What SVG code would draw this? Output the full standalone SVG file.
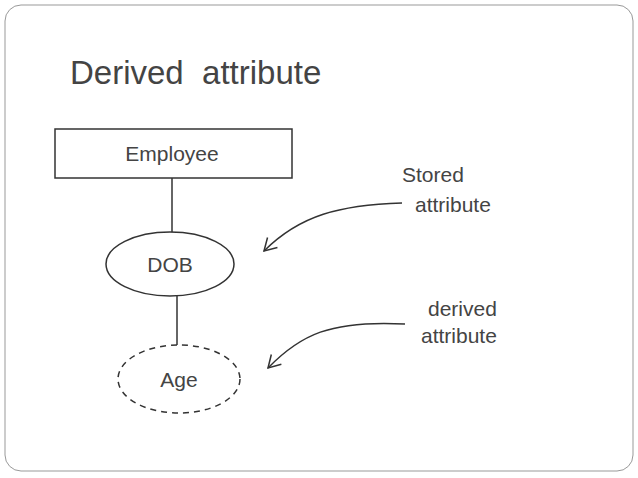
<svg xmlns="http://www.w3.org/2000/svg" width="638" height="478" viewBox="0 0 638 478">
<style>
.t{font-family:"Liberation Sans",Arial,sans-serif;fill:#444}
.s{fill:none;stroke:#333;stroke-width:1.5}
</style>
<defs><marker id="a" markerWidth="16" markerHeight="16" refX="14" refY="8" orient="auto" markerUnits="userSpaceOnUse"><path d="M2,1 L14,8 L2,15" fill="none" stroke="#333" stroke-width="1.5"/></marker></defs>
<rect x="5" y="5" width="628" height="466" rx="16" fill="#fff" stroke="#999"/>
<text class="t" x="70" y="84" font-size="33">Derived&#160; attribute</text>
<g id="employee"><rect class="s" x="55" y="129" width="237" height="49"/><text class="t" x="172" y="161" font-size="21" text-anchor="middle">Employee</text></g>
<g id="dob"><ellipse class="s" cx="170" cy="264" rx="64" ry="32"/><text class="t" x="170" y="272" font-size="21" text-anchor="middle">DOB</text></g>
<g id="age"><ellipse class="s" cx="179" cy="379" rx="61" ry="34" stroke-dasharray="6,5"/><text class="t" x="179" y="387" font-size="21" text-anchor="middle">Age</text></g>
<g id="stored"><text class="t" x="402" y="182" font-size="21">Stored</text><text class="t" x="415" y="212" font-size="21">attribute</text></g>
<g id="derived"><text class="t" x="428" y="316" font-size="21">derived</text><text class="t" x="421" y="343" font-size="21">attribute</text></g>
<g id="connectors">
<line class="s" x1="172" y1="178" x2="172" y2="232"/>
<line class="s" x1="177" y1="296" x2="177" y2="345"/>
<path class="s" d="M402,203 C340,205 300,215 264,251" marker-end="url(#a)"/>
<path class="s" d="M405,324 C330,320 300,335 268,368" marker-end="url(#a)"/>
</g>
</svg>
